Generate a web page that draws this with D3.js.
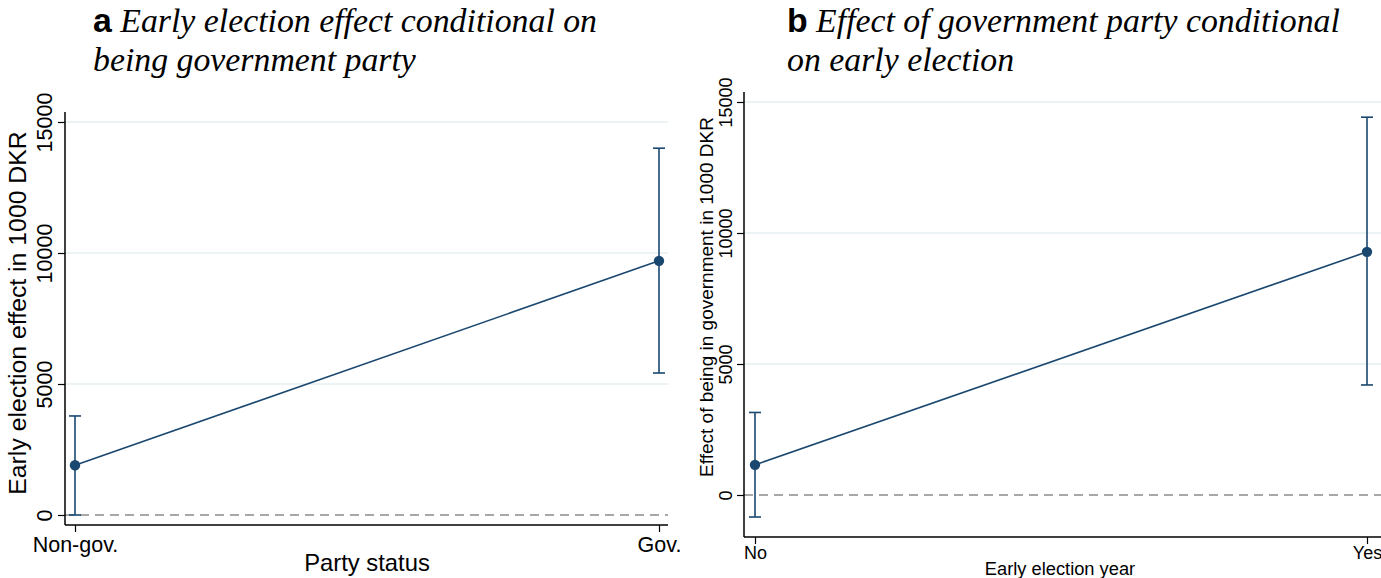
<!DOCTYPE html>
<html>
<head>
<meta charset="utf-8">
<script src="https://cdn.jsdelivr.net/npm/d3@7"></script>
<style>
  body { margin: 0; background: #fff; }
  svg { display: block; }
</style>
</head>
<body>
<div id="chart"></div>
<script>
// values
const yTicks = [0, 5000, 10000, 15000];

const catsA = ["Non-gov.", "Gov."];
const estA = [1900, 9700];
const loA = [0, 5420];
const hiA = [3780, 14000];

const catsB = ["No", "Yes"];
const estB = [1150, 9280];
const loB = [-840, 4200];
const hiB = [3150, 14420];

const width = 1381, height = 578;
const navy = "#1a476f";

const svg = d3.select("#chart").append("svg")
    .attr("width", width)
    .attr("height", height);

function drawPanel(opts) {
    const g = svg.append("g");
    const y = d3.scaleLinear().domain([0, 15000]).range([opts.y0, opts.y15]);
    const x = d3.scalePoint().domain(opts.cats).range(opts.xr);

    // gridlines
    g.selectAll(".grid")
        .data(yTicks.filter(d => d > 0))
        .join("line")
        .attr("x1", opts.axisX).attr("x2", opts.right)
        .attr("y1", d => y(d)).attr("y2", d => y(d))
        .attr("stroke", "#e6eff1").attr("stroke-width", 1.3);

    // zero reference line
    g.append("line")
        .attr("x1", opts.axisX).attr("x2", opts.right)
        .attr("y1", y(0)).attr("y2", y(0))
        .attr("stroke", "#8c8c8c").attr("stroke-width", 1.4)
        .attr("stroke-dasharray", "9,6");

    // y axis
    const yAxis = d3.axisLeft(y).tickValues(yTicks).tickSize(7).tickFormat(d3.format("d"));
    const ya = g.append("g").attr("transform", `translate(${opts.axisX},0)`).call(yAxis);
    ya.select(".domain").remove();
    ya.append("line")
        .attr("x1", 0).attr("x2", 0)
        .attr("y1", opts.axisTop).attr("y2", opts.axisBottom)
        .attr("stroke", "#000").attr("stroke-width", 1.5);
    ya.selectAll(".tick line").attr("stroke", "#000").attr("stroke-width", 1.2);
    ya.selectAll(".tick text")
        .attr("transform", `rotate(-90)`)
        .attr("x", 0).attr("y", -opts.tickLabelOff)
        .attr("dy", 0)
        .attr("text-anchor", "middle")
        .attr("fill", "#000")
        .style("font", `${opts.tickFont}px 'Liberation Sans', Arial, sans-serif`);

    // x axis
    const xAxis = d3.axisBottom(x).tickSize(7);
    const xa = g.append("g").attr("transform", `translate(0,${opts.axisBottom})`).call(xAxis);
    xa.select(".domain").remove();
    xa.append("line")
        .attr("x1", opts.axisX).attr("x2", opts.right)
        .attr("y1", 0).attr("y2", 0)
        .attr("stroke", "#000").attr("stroke-width", 1.5);
    xa.selectAll(".tick line").attr("stroke", "#000").attr("stroke-width", 1.2);
    xa.selectAll(".tick text")
        .attr("y", opts.xLabelOff)
        .attr("dy", 0)
        .attr("fill", "#000")
        .style("font", `${opts.tickFont}px 'Liberation Sans', Arial, sans-serif`);

    // connecting line
    const pts = opts.cats.map((c, i) => ({ c, est: opts.est[i], lo: opts.lo[i], hi: opts.hi[i] }));
    g.append("path")
        .datum(pts)
        .attr("fill", "none")
        .attr("stroke", navy)
        .attr("stroke-width", 1.6)
        .attr("d", d3.line().x(d => x(d.c)).y(d => y(d.est)));

    // error bars
    const eb = g.selectAll(".eb").data(pts).join("g");
    eb.append("line")
        .attr("x1", d => x(d.c)).attr("x2", d => x(d.c))
        .attr("y1", d => y(d.lo)).attr("y2", d => y(d.hi))
        .attr("stroke", navy).attr("stroke-width", 1.6);
    ["lo", "hi"].forEach(k => {
        eb.append("line")
            .attr("x1", d => x(d.c) - 6).attr("x2", d => x(d.c) + 6)
            .attr("y1", d => y(d[k])).attr("y2", d => y(d[k]))
            .attr("stroke", navy).attr("stroke-width", 1.6);
    });
    eb.append("circle")
        .attr("cx", d => x(d.c)).attr("cy", d => y(d.est))
        .attr("r", 5.2)
        .attr("fill", navy);

    // axis titles
    g.append("text")
        .attr("transform", `translate(${opts.yTitleX},${opts.yTitleY}) rotate(-90)`)
        .attr("text-anchor", "middle")
        .style("font", `${opts.yTitleFont}px 'Liberation Sans', Arial, sans-serif`)
        .text(opts.yTitle);
    g.append("text")
        .attr("x", opts.xTitleX).attr("y", opts.xTitleY)
        .attr("text-anchor", "middle")
        .style("font", `${opts.titleFont}px 'Liberation Sans', Arial, sans-serif`)
        .text(opts.xTitle);

    // panel heading
    const h = g.append("g").style("font-size", "33.8px");
    const l1 = h.append("text").attr("x", opts.headX).attr("y", 32);
    l1.append("tspan")
        .style("font-family", "'Liberation Sans', Arial, sans-serif")
        .style("font-weight", "bold")
        .text(opts.letter);
    l1.append("tspan")
        .style("font-family", "'Liberation Serif', 'Times New Roman', serif")
        .style("font-style", "italic")
        .text(" " + opts.head1);
    h.append("text").attr("x", opts.headX).attr("y", 71)
        .style("font-family", "'Liberation Serif', 'Times New Roman', serif")
        .style("font-style", "italic")
        .text(opts.head2);
}

drawPanel({
    cats: catsA, est: estA, lo: loA, hi: hiA,
    y0: 515, y15: 122, xr: [75, 659],
    axisX: 65, axisTop: 112, axisBottom: 525, right: 668,
    tickFont: 21.5, tickLabelOff: 13, xLabelOff: 27,
    titleFont: 23.8, yTitleFont: 24.8,
    yTitle: "Early election effect in 1000 DKR", yTitleX: 26, yTitleY: 313,
    xTitle: "Party status", xTitleX: 367, xTitleY: 571,
    letter: "a", headX: 93,
    head1: "Early election effect conditional on",
    head2: "being government party"
});

drawPanel({
    cats: catsB, est: estB, lo: loB, hi: hiB,
    y0: 495, y15: 102, xr: [755, 1367],
    axisX: 744, axisTop: 92, axisBottom: 537, right: 1381,
    tickFont: 18, tickLabelOff: 12, xLabelOff: 22,
    titleFont: 18.3, yTitleFont: 19,
    yTitle: "Effect of being in government in 1000 DKR", yTitleX: 713, yTitleY: 297,
    xTitle: "Early election year", xTitleX: 1060, xTitleY: 575,
    letter: "b", headX: 787,
    head1: "Effect of government party conditional",
    head2: "on early election"
});
</script>
</body>
</html>
